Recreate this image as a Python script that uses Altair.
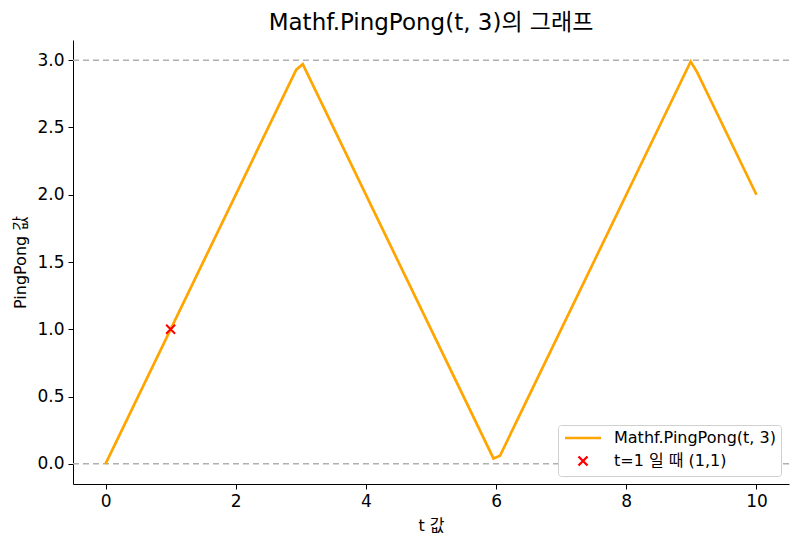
import altair as alt
import pandas as pd

# Values
t_vals = [0.0, 2.93, 3.03, 5.96, 6.06, 8.99, 9.09, 10.0]
pp_vals = [0.0, 2.93, 2.97, 0.04, 0.06, 2.99, 2.91, 2.0]
marker_t = [1.0]
marker_v = [1.0]
ref_lines = [0.0, 3.0]
series_names = ["Mathf.PingPong(t, 3)", "t=1 일 때 (1,1)"]
series_colors = ["#FFA500", "#FF0000"]
series_shapes = ["M-3.6,0L3.6,0", "M-0.9,-0.9L0.9,0.9M0.9,-0.9L-0.9,0.9"]
x_ticks = [0, 2, 4, 6, 8, 10]
y_ticks = [0.0, 0.5, 1.0, 1.5, 2.0, 2.5, 3.0]

FONT = "DejaVu Sans, Noto Sans CJK KR, sans-serif"

line_df = pd.DataFrame({"t": t_vals, "v": pp_vals})
mark_df = pd.DataFrame({"t": marker_t, "v": marker_v, "series": [series_names[1]]})
ref_df = pd.DataFrame({"y": ref_lines})

xscale = alt.Scale(domain=[-0.5, 10.5], nice=False, zero=False)
yscale = alt.Scale(domain=[-0.15, 3.15], nice=False, zero=False)

xaxis = alt.Axis(title="t 값", values=x_ticks, format="d", grid=False,
                 titlePadding=8)
yaxis = alt.Axis(title="PingPong 값", values=y_ticks, format=".1f", grid=False,
                 titlePadding=8)

refs = alt.Chart(ref_df).mark_rule(color="#b0b0b0", strokeWidth=1.5, strokeDash=[6, 4]).encode(
    y=alt.Y("y:Q", scale=yscale, axis=yaxis)
)

line = alt.Chart(line_df).mark_line(color="#FFA500", strokeWidth=2.7).encode(
    x=alt.X("t:Q", scale=xscale, axis=xaxis),
    y=alt.Y("v:Q", scale=yscale, axis=yaxis),
)

color_scale = alt.Scale(domain=series_names, range=series_colors)
shape_scale = alt.Scale(domain=series_names, range=series_shapes)

pts = alt.Chart(mark_df).mark_point(filled=False, size=100, strokeWidth=2, opacity=1).encode(
    x=alt.X("t:Q", scale=xscale, axis=xaxis),
    y=alt.Y("v:Q", scale=yscale, axis=yaxis),
    color=alt.Color("series:N", scale=color_scale,
                    legend=alt.Legend(title=None, orient="bottom-right")),
    shape=alt.Shape("series:N", scale=shape_scale,
                    legend=alt.Legend(title=None, orient="bottom-right")),
)

chart = alt.layer(refs, line, pts).properties(
    width=716,
    height=444,
    title=alt.TitleParams("Mathf.PingPong(t, 3)의 그래프", fontSize=23, fontWeight="normal",
                          font=FONT, color="black", offset=5, anchor="middle"),
    autosize=alt.AutoSizeParams(type="none"),
    padding={"left": 65, "top": 32, "right": 3, "bottom": 54},
).configure_view(
    stroke=None
).configure_axis(
    labelFont=FONT, titleFont=FONT, labelFontSize=17, titleFontSize=16,
    labelColor="black", titleColor="black", titleFontWeight="normal",
    domainColor="black", tickColor="black", domainWidth=1, tickWidth=1,
    tickSize=5, labelPadding=4,
).configure_legend(
    labelFont=FONT, labelFontSize=16, labelColor="black", labelLimit=400,
    strokeColor="#d0d0d0", fillColor="white", cornerRadius=3, padding=5,
    symbolStrokeWidth=2.4, symbolSize=100, symbolFillColor="transparent",
    symbolOffset=12, labelOffset=23,
    rowPadding=5, offset=8,
)

chart.save("out.html", embed_options={"renderer": "svg", "actions": False})
